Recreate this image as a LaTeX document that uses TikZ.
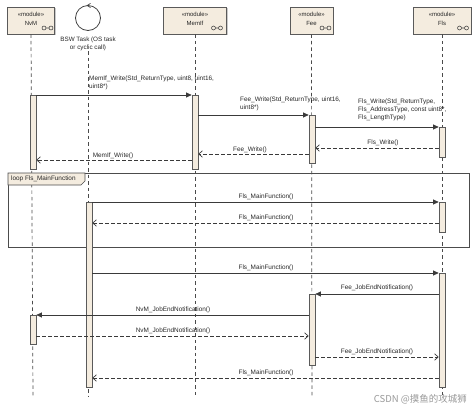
\documentclass[tikz,border=0pt]{standalone}
\usepackage{fontspec}
\setmainfont{Liberation Sans}
\newfontfamily\cjkfont{Noto Sans CJK SC}
\usetikzlibrary{arrows.meta,shadows}
\definecolor{boxfill}{HTML}{F4ECDF}
\definecolor{boxline}{HTML}{5A5A5A}
\definecolor{lineclr}{HTML}{4A4A4A}
\definecolor{msgclr}{HTML}{3A3A3A}
\tikzset{
  modbox/.style={draw=boxline, fill=boxfill, line width=0.8pt, inner sep=0pt,
    drop shadow={shadow xshift=1.2pt, shadow yshift=-1.2pt, fill=black!35, opacity=0.6}},
  lifeline/.style={draw=lineclr, dash pattern=on 3.5pt off 3pt, line width=0.7pt},
  actbar/.style={draw=boxline, fill=boxfill, line width=0.7pt, minimum width=6pt, inner sep=0pt, anchor=north,
    drop shadow={shadow xshift=0.8pt, shadow yshift=-0.8pt, fill=black!30, opacity=0.5}},
  callmsg/.style={draw=msgclr, line width=0.7pt, -{Triangle[length=5.5pt,width=5pt]}},
  retmsg/.style={draw=msgclr, line width=0.7pt, dash pattern=on 3.5pt off 2.5pt, -{Straight Barb[length=3.5pt,width=6.5pt]}},
  lbl/.style={font=\fontsize{6.4}{8}\selectfont, inner sep=0pt, text=black!85},
  stereo/.style={font=\fontsize{6}{7}\selectfont, inner sep=0pt, text=black!85},
  frameline/.style={draw=black!70, line width=0.9pt},
}
\newcommand{\compicon}[2]{%
  \draw[line width=0.55pt, black!75] (#1-3.5,#2) circle (2) (#1+3.5,#2) circle (2) (#1-1.5,#2) -- (#1+1.5,#2);}
\begin{document}
\begin{tikzpicture}[x=1pt,y=-1pt]
\useasboundingbox (0,0) rectangle (474,410);
% lifelines bottom coordinates
\coordinate (nvmB) at (33,396);
\coordinate (bswB) at (88,396);
\coordinate (memB) at (195,396);
\coordinate (feeB) at (312,396);
\coordinate (flsB) at (442,396);
% module boxes
\node[modbox, minimum width=47pt, minimum height=27pt] (nvm) at (31,20.5) {};
\node[modbox, minimum width=63pt, minimum height=27pt] (mem) at (195,20.5) {};
\node[modbox, minimum width=43pt, minimum height=27pt] (fee) at (311.5,20.5) {};
\node[modbox, minimum width=58pt, minimum height=27pt] (fls) at (442,20.5) {};
\foreach \b/\t/\x in {nvm/NvM/31, mem/MemIf/195, fee/Fee/311.5, fls/Fls/442}{
  \node[stereo] (\b st) at (\x,14) {«module»};
  \node[stereo] (\b nm) at (\x,23) {\t};
}
\compicon{47.5}{28}
\compicon{217}{28}
\compicon{325.5}{28}
\compicon{463}{28}
% BSW task active object
\node[circle, draw=black!75, line width=0.8pt, minimum size=25pt, inner sep=0pt] (bsw) at (88,18) {};
\draw[black!75, line width=0.7pt] (90.5,3.4) -- (87.2,5.5) -- (90.5,7.6);
\node[lbl, align=center, font=\fontsize{6.3}{8}\selectfont] (bswtxt) at (88,44) {BSW Task (OS task\\or cyclic call)};
% lifelines
\draw[lifeline] (nvm.south) -- (nvmB);
\draw[lifeline] (bswtxt.south) -- (bswB);
\draw[lifeline] (mem.south) -- (memB);
\draw[lifeline] (fee.south) -- (feeB);
\draw[lifeline] (fls.south) -- (flsB);
% loop frame
\node[frameline, draw, minimum width=461pt, minimum height=74pt, inner sep=0pt, anchor=north west] (loopf) at (8,173) {};
\draw[frameline, fill=boxfill, line width=0.7pt] (loopf.north west) -- ++(77,0) -- ++(0,8) -- ++(-4,4) -- ++(-73,0) -- cycle;
\node[lbl, anchor=west] (looplbl) at (11,179) {loop Fls\_MainFunction};
% activation bars
\node[actbar, minimum height=74pt] (nvmA1) at (33,95) {};
\node[actbar, minimum height=74pt] (memA1) at (195,95) {};
\node[actbar, minimum height=48pt] (feeA1) at (312,115) {};
\node[actbar, minimum height=30pt] (flsA1) at (442,127) {};
\node[actbar, minimum height=185pt] (bswA) at (89,202) {};
\node[actbar, minimum height=30pt] (flsA2) at (442,202) {};
\node[actbar, minimum height=114pt] (flsA3) at (442,273) {};
\node[actbar, minimum height=71pt] (feeA2) at (312,294) {};
\node[actbar, minimum height=29pt] (nvmA2) at (33,315) {};
% message y coordinates
\coordinate (m1) at (0,95);
\coordinate (m2) at (0,115);
\coordinate (m3) at (0,127);
\coordinate (m4) at (0,148);
\coordinate (m5) at (0,154);
\coordinate (m6) at (0,160);
\coordinate (m7) at (0,202);
\coordinate (m8) at (0,223);
\coordinate (m9) at (0,273);
\coordinate (m10) at (0,294);
\coordinate (m11) at (0,315);
\coordinate (m12) at (0,336);
\coordinate (m13) at (0,357);
\coordinate (m14) at (0,378);
% messages
\draw[callmsg] (nvmA1.east |- m1) -- (memA1.west |- m1);
\node[lbl, anchor=north west, align=left] (l1) at (89,75.5) {MemIf\_Write(Std\_ReturnType, uint8, uint16,\\uint8*)};
\draw[callmsg] (memA1.east |- m2) -- (feeA1.west |- m2);
\node[lbl, anchor=north west, align=left] (l2) at (240,96.5) {Fee\_Write(Std\_ReturnType, uint16,\\uint8*)};
\draw[callmsg] (feeA1.east |- m3) -- (flsA1.west |- m3);
\node[lbl, anchor=north west, align=left] (l3) at (358,98.5) {Fls\_Write(Std\_ReturnType,\\Fls\_AddressType, const uint8*,\\Fls\_LengthType)};
\draw[retmsg] (flsA1.west |- m4) -- (feeA1.east |- m4);
\node[lbl] (l4) at (383,143) {Fls\_Write()};
\draw[retmsg] (feeA1.west |- m5) -- (memA1.east |- m5);
\node[lbl] (l5) at (250,150) {Fee\_Write()};
\draw[retmsg] (memA1.west |- m6) -- (nvmA1.east |- m6);
\node[lbl] (l6) at (113,156) {MemIf\_Write()};
\draw[callmsg] (bswA.east |- m7) -- (flsA2.west |- m7);
\node[lbl] (l7) at (266,197) {Fls\_MainFunction()};
\draw[retmsg] (flsA2.west |- m8) -- (bswA.east |- m8);
\node[lbl] (l8) at (266,218) {Fls\_MainFunction()};
\draw[callmsg] (bswA.east |- m9) -- (flsA3.west |- m9);
\node[lbl] (l9) at (266,268) {Fls\_MainFunction()};
\draw[callmsg] (flsA3.west |- m10) -- (feeA2.east |- m10);
\node[lbl] (l10) at (377,288) {Fee\_JobEndNotification()};
\draw[callmsg] (feeA2.west |- m11) -- (nvmA2.east |- m11);
\node[lbl] (l11) at (173,310) {NvM\_JobEndNotification()};
\draw[retmsg] (nvmA2.east |- m12) -- (feeA2.west |- m12);
\node[lbl] (l12) at (173,331) {NvM\_JobEndNotification()};
\draw[retmsg] (feeA2.east |- m13) -- (flsA3.west |- m13);
\node[lbl] (l13) at (377,352) {Fee\_JobEndNotification()};
\draw[retmsg] (flsA3.west |- m14) -- (bswA.east |- m14);
\node[lbl] (l14) at (266,373) {Fls\_MainFunction()};
% watermark
\node[inner sep=0pt, text=black!40, font=\cjkfont\fontsize{9.5}{10}\selectfont, anchor=east] (wm) at (467,399) {CSDN @摸鱼的攻城狮};
\end{tikzpicture}
\end{document}
